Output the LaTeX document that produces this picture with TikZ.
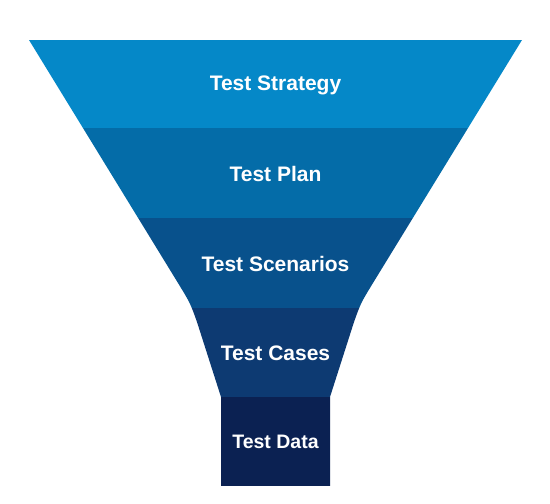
\documentclass[tikz,border=0pt]{standalone}
\usepackage{fontspec}
\setmainfont{Liberation Sans}
\definecolor{bandA}{HTML}{0588C8}
\definecolor{bandB}{HTML}{046CA8}
\definecolor{bandC}{HTML}{08518C}
\definecolor{bandD}{HTML}{0D3A72}
\definecolor{bandE}{HTML}{0B2152}
\begin{document}
\begin{tikzpicture}[x=1pt,y=-1pt,
  label/.style={text=white,font=\fontsize{21}{25}\selectfont\bfseries,inner sep=0pt}]
\useasboundingbox (0,0) rectangle (550,504);
\begin{scope}
\clip (29,40) -- (522,40) -- (373,283) .. controls (360.8,303) .. (354,322)
  -- (330,397) -- (330,486) -- (221,486) -- (221,397) -- (197,322)
  .. controls (190.2,303) .. (178,283) -- cycle;
\fill[bandA] (0,40) rectangle (550,128);
\fill[bandB] (0,128) rectangle (550,218);
\fill[bandC] (0,218) rectangle (550,308);
\fill[bandD] (0,308) rectangle (550,397);
\fill[bandE] (0,397) rectangle (550,486);
\end{scope}
\node[label] (s) at (275.5,85) {Test Strategy};
\node[label] (p) at (275.5,174) {Test Plan};
\node[label] (sc) at (275.5,264) {Test Scenarios};
\node[label] (c) at (275.5,353) {Test Cases};
\node[label,font=\fontsize{19.5}{23}\selectfont\bfseries] (d) at (275.5,442) {Test Data};
\end{tikzpicture}
\end{document}
